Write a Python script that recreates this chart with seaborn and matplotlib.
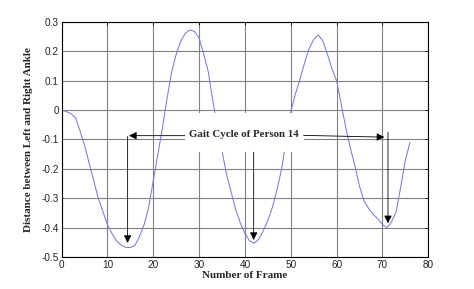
import numpy as np
import pandas as pd
import matplotlib
matplotlib.use("Agg")
import matplotlib.pyplot as plt
from matplotlib.patches import Rectangle
import seaborn as sns

# ---- data ----
frames = list(range(0, 77))
distance = [
    0.000, -0.005, -0.012, -0.025, -0.070, -0.120, -0.180, -0.240, -0.300, -0.345,
    -0.390, -0.420, -0.445, -0.460, -0.467, -0.468, -0.460, -0.430, -0.390, -0.330,
    -0.240, -0.150, -0.060, 0.040, 0.130, 0.190, 0.235, 0.262, 0.273, 0.268,
    0.245, 0.190, 0.130, 0.030, -0.060, -0.140, -0.220, -0.280, -0.340, -0.385,
    -0.420, -0.445, -0.453, -0.440, -0.410, -0.375, -0.330, -0.270, -0.200, -0.100,
    -0.005, 0.055, 0.105, 0.160, 0.210, 0.240, 0.256, 0.235, 0.190, 0.140,
    0.100, 0.020, -0.060, -0.130, -0.190, -0.260, -0.310, -0.335, -0.355, -0.370,
    -0.390, -0.400, -0.380, -0.345, -0.260, -0.170, -0.110,
]
x_ticks = [0, 10, 20, 30, 40, 50, 60, 70, 80]
y_ticks = [0.3, 0.2, 0.1, 0.0, -0.1, -0.2, -0.3, -0.4, -0.5]
y_tick_labels = ["0.3", "0.2", "0.1", "0", "-0.1", "-0.2", "-0.3", "-0.4", "-0.5"]
annotation_text = "Gait Cycle of Person 14"
cycle_frames = [14.4, 41.9, 71.2]          # frames pointed at by the arrows
cycle_tips = [-0.452, -0.442, -0.385]      # arrow tip heights
x_label = "Number of Frame"
y_label = "Distance between Left and Right Ankle"

df = pd.DataFrame({"frame": frames, "distance": distance})

sns.set_theme(style="white")
plt.rcParams["axes.unicode_minus"] = False
plt.rcParams["font.family"] = ["Liberation Sans", "DejaVu Sans"]

fig = plt.figure(figsize=(4.74, 2.89), dpi=100)
ax = fig.add_axes([0.130, 0.1107, 0.7736, 0.8133])

sns.lineplot(data=df, x="frame", y="distance", ax=ax, color="#7a7ae6",
             linewidth=0.75, zorder=2)

ax.set_xlim(0, 80)
ax.set_ylim(-0.5, 0.3)
ax.set_xticks(x_ticks)
ax.set_xticklabels([str(t) for t in x_ticks])
ax.set_yticks(y_ticks)
ax.set_yticklabels(y_tick_labels)
ax.grid(True, color="#808080", linewidth=0.8, zorder=0)
ax.set_axisbelow(True)
ax.tick_params(axis="both", which="both", direction="in", length=2.5,
               width=0.6, color="black", top=True, right=True,
               labelsize=7.2, pad=2, labelcolor="#222222")
for s in ax.spines.values():
    s.set_color("black")
    s.set_linewidth(0.8)

serif = ["Liberation Serif", "DejaVu Serif"]
ax.set_xlabel(x_label, family=serif, fontweight="bold", fontsize=8, labelpad=1)
ax.set_ylabel(y_label, family=serif, fontweight="bold", fontsize=8, labelpad=6)

# white text box covering the curve
box_x0, box_x1 = 26.9, 52.8
box_y0, box_y1 = -0.143, -0.010
ax.add_patch(Rectangle((box_x0, box_y0), box_x1 - box_x0, box_y1 - box_y0,
                       facecolor="white", edgecolor="none", zorder=3))
ax.text((box_x0 + box_x1) / 2, -0.082, annotation_text, family=serif,
        fontweight="bold", fontsize=7.8, ha="center", va="center", zorder=5)

arrow_kw = dict(arrowstyle="-|>,head_length=0.5,head_width=0.25", color="black",
                lw=0.6, mutation_scale=9, shrinkA=0, shrinkB=0)
# horizontal arrows
ax.annotate("", xy=(cycle_frames[0] + 0.3, -0.087), xytext=(box_x0, -0.087),
            arrowprops=arrow_kw, zorder=4)
ax.annotate("", xy=(cycle_frames[2] - 0.8, -0.092), xytext=(box_x1, -0.086),
            arrowprops=arrow_kw, zorder=4)
# vertical arrows
ax.annotate("", xy=(cycle_frames[0], cycle_tips[0]), xytext=(cycle_frames[0], -0.09),
            arrowprops=arrow_kw, zorder=4)
ax.annotate("", xy=(cycle_frames[1], cycle_tips[1]), xytext=(cycle_frames[1], box_y0),
            arrowprops=arrow_kw, zorder=4)
ax.annotate("", xy=(cycle_frames[2], cycle_tips[2]), xytext=(cycle_frames[2], -0.076),
            arrowprops=arrow_kw, zorder=4)

fig.savefig("out.png", dpi=100, facecolor="white")
